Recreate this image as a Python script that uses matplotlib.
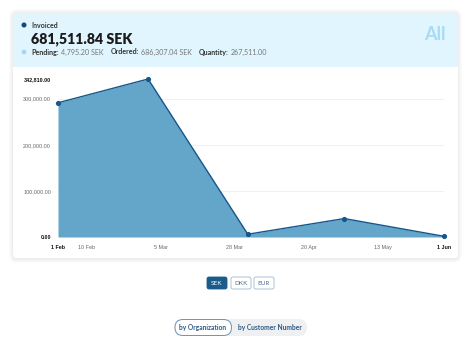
import numpy as np
import matplotlib.pyplot as plt
import matplotlib.dates as mdates
from matplotlib.patches import FancyBboxPatch, Circle

# invoiced amounts per month (SEK)
dates = np.array(['2023-02-01', '2023-03-01', '2023-04-01', '2023-05-01', '2023-06-01'],
                 dtype='datetime64[D]')
invoiced = [291200.00, 342810.00, 6000.00, 40000.00, 1501.84]

tick_dates = np.array(['2023-02-01', '2023-02-10', '2023-03-05', '2023-03-28',
                       '2023-04-20', '2023-05-13', '2023-06-01'], dtype='datetime64[D]')
tick_labels = ['1 Feb', '10 Feb', '5 Mar', '28 Mar', '20 Apr', '13 May', '1 Jun']
y_ticks = [0, 100000, 200000, 300000, 342810]
y_labels = ['0.00', '100,000.00', '200,000.00', '300,000.00', '342,810.00']

total = '681,511.84 SEK'
summary = [('Pending:', '4,795.20 SEK'), ('Ordered:', '686,307.04 SEK'),
           ('Quantity:', '267,511.00')]
currencies = ['SEK', 'DKK', 'EUR']

W, H = 474, 348
fig = plt.figure(figsize=(W / 100, H / 100), dpi=100)
fig.patch.set_facecolor('white')

# background layer in pixel coordinates
bg = fig.add_axes([0, 0, 1, 1])
bg.set_xlim(0, W)
bg.set_ylim(H, 0)
bg.axis('off')

def rbox(x0, y0, x1, y1, r, **kw):
    p = FancyBboxPatch((x0, y0), x1 - x0, y1 - y0,
                       boxstyle=f'round,pad=0,rounding_size={r}', **kw)
    bg.add_patch(p)
    return p

# card shadow
for i, a in enumerate([0.015, 0.02, 0.03]):
    d = 4 - i * 1.3
    rbox(13 - d, 13 - d, 458 + d, 258 + d + 1, 4 + d, facecolor='#000000',
         edgecolor='none', alpha=a)
rbox(13, 13, 458, 258, 3, facecolor='white', edgecolor='none')
bg.add_patch(plt.Rectangle((13, 13), 445, 54, facecolor='#e0f5fd', edgecolor='none'))

head_font = 'Lato'
bg.add_patch(Circle((24, 25), 1.8, color='#15497c'))
bg.text(31, 25, 'Invoiced', fontsize=5, family=head_font, weight='bold',
        color='#333333', va='center')
bg.text(31.5, 39.5, total, fontsize=10.2, family=head_font, weight='heavy',
        color='#1b1b1b', va='center')
bg.add_patch(Circle((24, 52), 1.6, color='#a9d6ec'))
xs = [31.5, 111, 199]
renderer = fig.canvas.get_renderer()
for x, (k, v) in zip(xs, summary):
    t = bg.text(x, 52, k, fontsize=5.1, family=head_font, weight='bold',
                color='#333333', va='center')
    bb = t.get_window_extent(renderer=renderer)
    bg.text(x + bb.width + 1.5, 52, v, fontsize=5.1, family=head_font,
            color='#777777', va='center')
bg.text(446, 34, 'All', fontsize=13, family=head_font, weight='bold',
        color='#a8dbf4', ha='right', va='center')

# currency buttons
bx = [(207, 227), (231, 251), (254, 274)]
for (x0, x1), c in zip(bx, currencies):
    sel = c == 'SEK'
    rbox(x0, 277, x1, 289, 2, facecolor='#195c8c' if sel else 'white',
         edgecolor='#195c8c' if sel else '#9fb8cc', linewidth=0.6)
    bg.text((x0 + x1) / 2, 283.3, c, fontsize=4.6, family=head_font,
            color='white' if sel else '#4f6f8f', ha='center', va='center')

# grouping toggle
rbox(174, 319, 307, 336, 8.5, facecolor='#eef0f2', edgecolor='none')
rbox(175, 319.5, 231.5, 335.5, 8, facecolor='white', edgecolor='#6f93b3',
     linewidth=0.7)
bg.text(203, 327.5, 'by Organization', fontsize=4.8, family=head_font,
        weight='bold', color='#2d5a86', ha='center', va='center')
bg.text(270, 327.5, 'by Customer Number', fontsize=4.8, family=head_font,
        weight='bold', color='#2d5a86', ha='center', va='center')

# chart
ax = fig.add_axes([58 / W, (H - 237) / H, 386 / W, (237 - 79) / H])
ax.patch.set_alpha(0)
ax.fill_between(dates, invoiced, 0, color='#64a6ca', linewidth=0, zorder=2)
ax.plot(dates, invoiced, color='#16568a', linewidth=1.0, zorder=3)
ax.scatter(dates, invoiced, s=14, color='#16568a', zorder=4, linewidths=0,
           clip_on=False)
ax.set_xlim(dates[0], dates[-1])
ax.set_ylim(0, 342810)
for s in ax.spines.values():
    s.set_visible(False)
for yv in [100000, 200000, 300000]:
    ax.axhline(yv, color='#eeeeee', linewidth=0.6, zorder=1)

ax.set_xticks(tick_dates)
ax.set_xticklabels(tick_labels)
ax.set_yticks(y_ticks)
ax.set_yticklabels(y_labels)
ax.tick_params(length=0, labelsize=3.9, labelcolor='#666666', pad=5)
ax.tick_params(axis='x', pad=5.5)
for lbl in ax.get_xticklabels() + ax.get_yticklabels():
    lbl.set_family('Liberation Sans')
for i in [0, -1]:
    ax.get_xticklabels()[i].set_fontweight('bold')
    ax.get_xticklabels()[i].set_color('#111111')
    ax.get_yticklabels()[i].set_fontweight('bold')
    ax.get_yticklabels()[i].set_color('#111111')

fig.savefig('out.png', dpi=100)
